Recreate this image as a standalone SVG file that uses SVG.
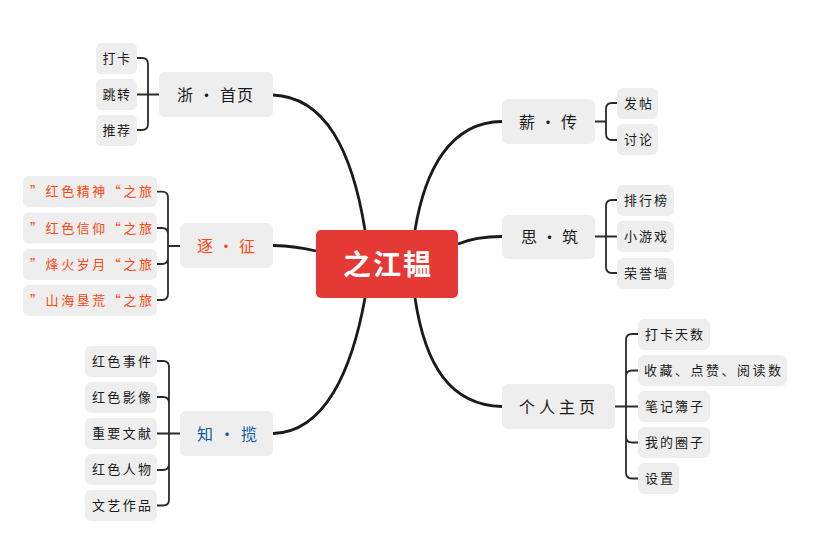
<svg xmlns="http://www.w3.org/2000/svg" width="831" height="547" viewBox="0 0 831 547">
<style>
text{font-family:"Noto Sans CJK SC","Noto Sans CJK JP",sans-serif;dominant-baseline:central;fill:#1a1a1a;transform:translateY(-1px)}
.b{fill:#eeeeee}
.l{font-size:13px}
.t{font-size:16px}
.o{fill:#ff4510}
.u{fill:#0b5aa5}
.m{fill:none;stroke:#1a1a1a;stroke-width:2.8;stroke-linecap:butt}
.s{fill:none;stroke:#2b2b2b;stroke-width:1.8}
</style>
<rect width="831" height="547" fill="#ffffff"/>
<g id="connectors">
<path class="m" d="M365 230C352 150 325 97 273 95"/>
<path class="m" d="M316 251C300 247 290 246 273 245.5"/>
<path class="m" d="M365 298C352 370 325 432 273 433.5"/>
<path class="m" d="M415 230C425 170 450 122 502 121.5"/>
<path class="m" d="M458 244C472 238 485 236.5 502 236.5"/>
<path class="m" d="M415 298C425 365 450 405 502 406.5"/>
<path class="s" d="M159 94.5H137M137 58H142Q148 58 148 64V124Q148 130 142 130H137"/>
<path class="s" d="M180 246H168M157 191.700H162Q168 191.700 168 197.700V294Q168 300 162 300H157M157 228H162Q168 228 168 234M157 264H162Q168 264 168 258"/>
<path class="s" d="M180 433.500H157M157 361H163Q169 361 169 367V499.500Q169 505.500 163 505.500H157M157 397H163Q169 397 169 403M157 470H163Q169 470 169 464"/>
<path class="s" d="M595 121.500H606M617 103H612Q606 103 606 109V134Q606 140 612 140H617"/>
<path class="s" d="M595 236.500H617M617 200H612Q606 200 606 206V267Q606 273 612 273H617"/>
<path class="s" d="M615 406.500H638M638 334H632Q626 334 626 340V472.500Q626 478.500 632 478.500H638M638 370.500H632Q626 370.500 626 376.500M638 442.500H632Q626 442.500 626 436.500"/>
</g>
<g id="center"><rect x="316" y="230" width="142" height="68" rx="5" fill="#e53935"/><text x="343" y="264" font-size="28" font-weight="700" textLength="88" style="fill:#fff">之江韫</text></g>
<g id="n-zheshouye"><rect class="b" x="159" y="72" width="114" height="45" rx="6"/><text class="t" x="177" y="95" textLength="76">浙 · 首页</text></g>
<g id="n-zhuzheng"><rect class="b" x="180" y="223" width="93" height="45" rx="6"/><text class="t o" x="197" y="246" textLength="58">逐 · 征</text></g>
<g id="n-zhilan"><rect class="b" x="180" y="411" width="93" height="45" rx="6"/><text class="t u" x="197" y="434" textLength="60">知 · 揽</text></g>
<g id="n-xinchuan"><rect class="b" x="502" y="99" width="93" height="45" rx="6"/><text class="t" x="519" y="122" textLength="58">薪 · 传</text></g>
<g id="n-sizhu"><rect class="b" x="502" y="215" width="93" height="44" rx="6"/><text class="t" x="521" y="237" textLength="57">思 · 筑</text></g>
<g id="n-geren"><rect class="b" x="502" y="384" width="113" height="45" rx="6"/><text class="t" x="519" y="407" textLength="76">个人主页</text></g>
<g id="l-daka"><rect class="b" x="96" y="43" width="41" height="31" rx="6"/><text class="l" x="102.500" y="58.500" textLength="27.500">打卡</text></g>
<g id="l-tiaozhuan"><rect class="b" x="96" y="79" width="41" height="31" rx="6"/><text class="l" x="102.500" y="94.500" textLength="27.500">跳转</text></g>
<g id="l-tuijian"><rect class="b" x="96" y="115" width="41" height="31" rx="6"/><text class="l" x="102.500" y="130.500" textLength="27.500">推荐</text></g>
<g id="l-jingshen"><rect class="b" x="23" y="176" width="134" height="31" rx="6"/><text class="l o" x="30" y="191.500" textLength="122">”红色精神“之旅</text></g>
<g id="l-xinyang"><rect class="b" x="23" y="212.500" width="134" height="31" rx="6"/><text class="l o" x="30" y="228" textLength="122">”红色信仰“之旅</text></g>
<g id="l-fenghuo"><rect class="b" x="23" y="249" width="134" height="31" rx="6"/><text class="l o" x="30" y="264.500" textLength="122">”烽火岁月“之旅</text></g>
<g id="l-shanhai"><rect class="b" x="23" y="285" width="134" height="31" rx="6"/><text class="l o" x="30" y="300.500" textLength="122">”山海垦荒“之旅</text></g>
<g id="l-shijian"><rect class="b" x="85" y="346" width="72" height="31" rx="6"/><text class="l" x="92" y="361.500" textLength="59">红色事件</text></g>
<g id="l-yingxiang"><rect class="b" x="85" y="382" width="72" height="31" rx="6"/><text class="l" x="92" y="397.500" textLength="59">红色影像</text></g>
<g id="l-wenxian"><rect class="b" x="85" y="418" width="72" height="31" rx="6"/><text class="l" x="92" y="433.500" textLength="59">重要文献</text></g>
<g id="l-renwu"><rect class="b" x="85" y="454" width="72" height="31" rx="6"/><text class="l" x="92" y="469.500" textLength="59">红色人物</text></g>
<g id="l-zuopin"><rect class="b" x="85" y="490" width="72" height="31" rx="6"/><text class="l" x="92" y="505.500" textLength="59">文艺作品</text></g>
<g id="l-fatie"><rect class="b" x="617" y="88" width="41" height="31" rx="6"/><text class="l" x="624" y="103.500" textLength="28">发帖</text></g>
<g id="l-taolun"><rect class="b" x="617" y="124" width="41" height="31" rx="6"/><text class="l" x="624" y="139.500" textLength="28">讨论</text></g>
<g id="l-paihang"><rect class="b" x="617" y="185" width="57" height="31" rx="6"/><text class="l" x="624" y="200.500" textLength="43">排行榜</text></g>
<g id="l-youxi"><rect class="b" x="617" y="221" width="57" height="31" rx="6"/><text class="l" x="624" y="236.500" textLength="43">小游戏</text></g>
<g id="l-rongyu"><rect class="b" x="617" y="258" width="57" height="31" rx="6"/><text class="l" x="624" y="273.500" textLength="43">荣誉墙</text></g>
<g id="l-tianshu"><rect class="b" x="638" y="319" width="72" height="31" rx="6"/><text class="l" x="645" y="334.500" textLength="58">打卡天数</text></g>
<g id="l-shoucang"><rect class="b" x="638" y="355" width="149" height="31" rx="6"/><text class="l" x="644" y="370.500" textLength="137">收藏、点赞、阅读数</text></g>
<g id="l-biji"><rect class="b" x="638" y="391" width="72" height="31" rx="6"/><text class="l" x="645" y="406.500" textLength="58">笔记簿子</text></g>
<g id="l-quanzi"><rect class="b" x="638" y="427" width="72" height="31" rx="6"/><text class="l" x="645" y="442.500" textLength="58">我的圈子</text></g>
<g id="l-shezhi"><rect class="b" x="638" y="463" width="41" height="31" rx="6"/><text class="l" x="645" y="478.500" textLength="28">设置</text></g>
</svg>
